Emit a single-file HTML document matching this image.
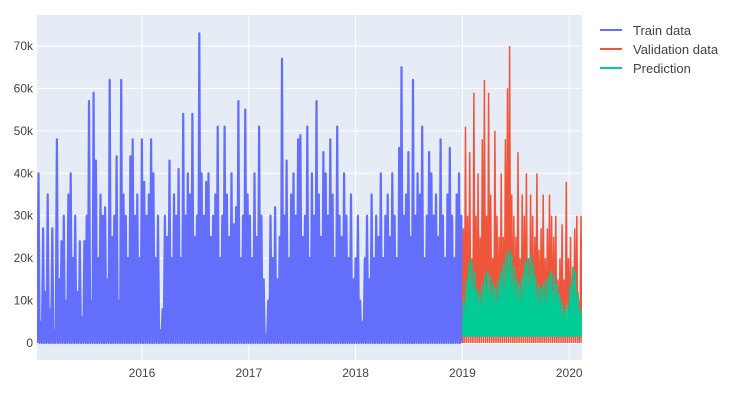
<!DOCTYPE html>
<html><head><meta charset="utf-8"><style>
body{margin:0;background:#fff;}
svg text{font-family:"Liberation Sans",sans-serif;fill:#444;}
</style></head><body>
<svg id="chart" width="754" height="400" xmlns="http://www.w3.org/2000/svg">
<defs><clipPath id="clip"><rect x="37" y="15" width="545" height="345"/></clipPath></defs>
<rect x="37" y="15" width="545" height="345" fill="#e5ecf6"/>
<g id="grid"></g>
<g id="series" clip-path="url(#clip)"></g>
<g id="axes"></g>
<g>
<g><line x1="600" y1="30" x2="622" y2="30" stroke="#636efa" stroke-width="2"/><text x="633" y="35" font-size="13">Train data</text></g>
<g><line x1="600" y1="49" x2="622" y2="49" stroke="#EF553B" stroke-width="2"/><text x="633" y="54" font-size="13">Validation data</text></g>
<g><line x1="600" y1="68" x2="622" y2="68" stroke="#00cc96" stroke-width="2"/><text x="633" y="73" font-size="13">Prediction</text></g>
</g>
</svg>
<script>
const trainValues=[40,5,27,12,35,8,27,3,48,15,24,30,10,35,40,20,30,12,24,6,24,30,57,10,59,43,20,35,30,32,15,62,25,30,44,10,62,35,30,20,44,48,30,35,20,48,38,30,35,48,40,20,30,
3,8,30,25,43,20,35,30,41,20,54,30,40,35,54,25,30,73,40,30,38,40,25,30,35,51,20,30,51,35,25,40,28,32,57,20,30,55,35,30,20,40,25,51,30,15,
2,10,30,20,32,15,25,67,30,43,20,35,40,30,48,49,25,30,51,20,40,30,57,35,25,45,40,30,48,35,20,51,30,25,40,30,20,35,15,20,30,10,
5,20,30,15,35,20,30,25,40,20,30,35,25,40,30,20,46,65,30,35,45,25,62,30,40,35,51,20,30,45,40,30,35,25,48,30,20,35,46,30,20,35,40,30];
const validValues=[27,51,30,45,15,59,30,40,25,48,62,30,59,35,20,50,30,25,40,25,48,60,70,35,30,25,45,20,35,30,40,20,35,30,25,40,22,27,35,20,27,35,30,25,30,15,20,28,15,38,20,25,15,27,30,10,30];
const predValues=[10,15,19,20,17,13,12,14,16,17,16,14,13,15,17,19,21,22,21,18,15,14,16,19,20,21,19,16,14,13,14,15,16,17,16,14,12,10,8,9,14,18,17,12,8];
const yTicks=[0,10,20,30,40,50,60,70];
const yTickLabels=["0","10k","20k","30k","40k","50k","60k","70k"];
const xTicks=[2016,2017,2018,2019,2020];
const trainRange=[2015.02,2019.0];
const validRange=[2019.0,2020.12];

const X=t=>142+(t-2016)*106.8;
const Y=v=>343-v*4.243;
const NS="http://www.w3.org/2000/svg";
function mk(tag,attrs,parent){const e=document.createElementNS(NS,tag);for(const k in attrs)e.setAttribute(k,attrs[k]);parent.appendChild(e);return e;}
const grid=document.getElementById('grid'),axes=document.getElementById('axes'),ser=document.getElementById('series');
yTicks.forEach((v,i)=>{
 const l=mk('line',{x1:37,x2:582,y1:Y(v),y2:Y(v),stroke:'#fff','stroke-width':v===0?2:1},grid);
 
 
 const t=mk('text',{x:33,y:Y(v)+4,'font-size':12,'text-anchor':'end'},axes);
 t.textContent=yTickLabels[i];
 
 
});
xTicks.forEach(v=>{
 const l=mk('line',{x1:X(v),x2:X(v),y1:15,y2:360,stroke:'#fff','stroke-width':1},grid);
 
 
 const t=mk('text',{x:X(v),y:377,'font-size':12,'text-anchor':'middle'},axes);
 t.textContent=String(v);
 
 
});
function zig(vals,range,base){
 const n=vals.length,step=(range[1]-range[0])/n;let d='';
 vals.forEach((v,i)=>{const t=range[0]+i*step;
  d+=(i?'L':'M')+X(t).toFixed(1)+','+Y(base).toFixed(1)+'L'+X(t+step*0.5).toFixed(1)+','+Y(v).toFixed(1);});
 d+='L'+X(range[1]).toFixed(1)+','+Y(base).toFixed(1);return d;}
let p=mk('path',{d:zig(trainValues,trainRange,0),fill:'none',stroke:'#636efa','stroke-width':2.2,'stroke-linejoin':'round'},ser);


p=mk('path',{d:zig(validValues,validRange,0),fill:'none',stroke:'#EF553B','stroke-width':1.5},ser);


p=mk('path',{d:zig(predValues,validRange,1.5),fill:'#00cc96',stroke:'#00cc96','stroke-width':1.5},ser);


</script>
</body></html>
